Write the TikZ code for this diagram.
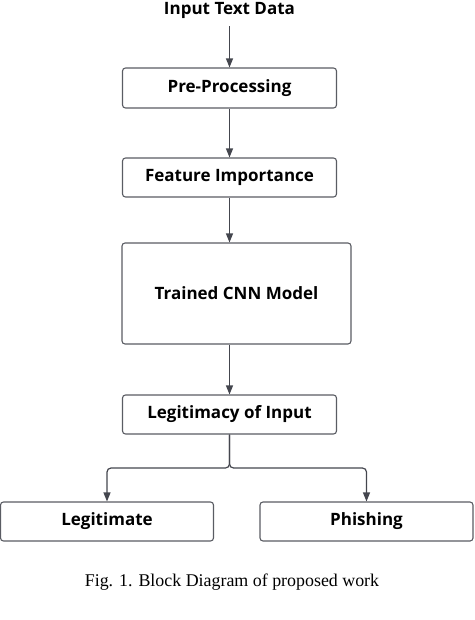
\documentclass[tikz,border=0pt]{standalone}
\usepackage{fontspec}
\setmainfont{Liberation Serif}
\newfontfamily\boxfont{Open Sans}
\usetikzlibrary{arrows.meta}
\definecolor{edgegray}{HTML}{5A5C63}
\definecolor{flowgray}{HTML}{44464E}
\tikzset{
  boxtext/.style={font=\boxfont\bfseries\fontsize{17}{20}\selectfont},
  block/.style={draw=edgegray, line width=1.1pt, rounded corners=3pt, fill=white,
    boxtext, inner sep=0pt},
  flow/.style={draw=flowgray, line width=1.2pt, -{Triangle[width=7pt,length=9pt]}}
}
\begin{document}
\begin{tikzpicture}[x=1pt, y=-1pt]
  \useasboundingbox (0, 0) rectangle (474, 620);
  \node[boxtext, inner sep=0pt] (input) at (229.5, 10) {Input Text Data};
  \node[block, minimum width=214pt, minimum height=40pt] (pre) at (229.5, 88) {Pre-Processing};
  \node[block, minimum width=214pt, minimum height=39pt] (feat) at (229.5, 177.5) {Feature Importance};
  \node[block, minimum width=229pt, minimum height=101pt] (cnn) at (236.5, 293.5) {Trained CNN Model};
  \node[block, minimum width=214pt, minimum height=39pt] (legin) at (229.5, 414.5) {Legitimacy of Input};
  \node[block, minimum width=213pt, minimum height=39pt] (legit) at (107, 521.5) {Legitimate};
  \node[block, minimum width=213pt, minimum height=39pt] (phish) at (366.5, 521.5) {Phishing};
  \coordinate (fork) at (229.5, 468);
  % flow of the blocks
  \draw[flow, shorten <=8pt] (input) -- (pre);
  \draw[flow] (pre) -- (feat);
  \draw[flow] (feat) -- (feat.south |- cnn.north);
  \draw[flow] (cnn.south -| legin) -- (legin);
  \draw[flow, rounded corners=4pt] (legin) -- (fork) -| (legit);
  \draw[flow, rounded corners=4pt] (legin) -- (fork) -| (phish);
  \node[font=\fontsize{17.9}{21}\selectfont] (caption) at (232, 582) {Fig. 1. Block Diagram of proposed work};
\end{tikzpicture}
\end{document}
